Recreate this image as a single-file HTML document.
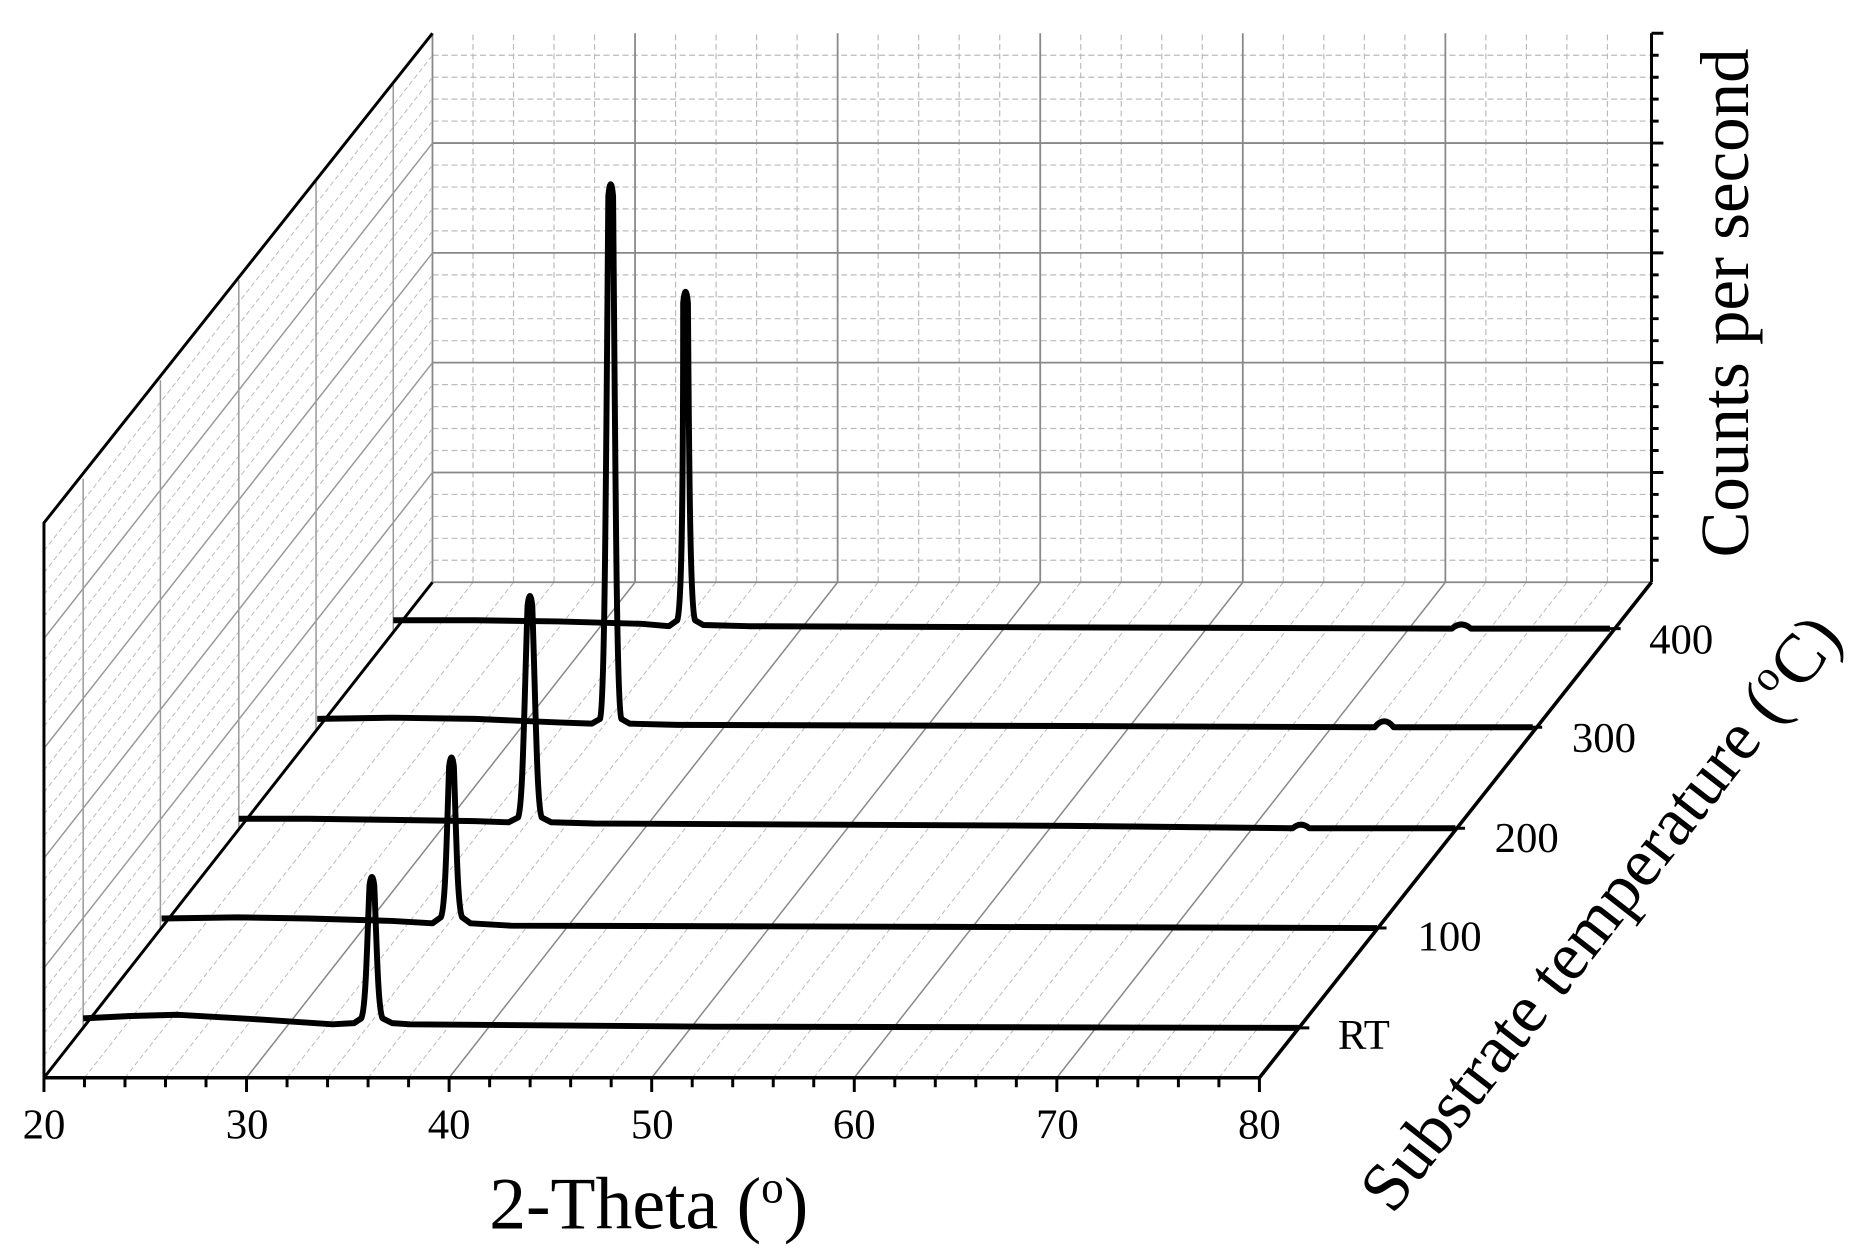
<!DOCTYPE html>
<html><head><meta charset="utf-8"><style>
html,body{margin:0;padding:0;background:#fff;}
svg{display:block;}
text{font-family:"Liberation Serif",serif;fill:#000;}
</style></head><body>
<svg width="1863" height="1256" viewBox="0 0 1568 1057" preserveAspectRatio="none" xmlns="http://www.w3.org/2000/svg">
<g transform="matrix(1,0,-0.7842,1,37,907)" fill="none">
<path vector-effect="non-scaling-stroke" stroke="#bbb" stroke-width="1" stroke-dasharray="5,3" d="M34.1 0V-417M68.2 0V-417M102.3 0V-417M136.4 0V-417M204.6 0V-417M238.7 0V-417M272.8 0V-417M306.9 0V-417M375.1 0V-417M409.2 0V-417M443.3 0V-417M477.4 0V-417M545.6 0V-417M579.7 0V-417M613.8 0V-417M647.9 0V-417M716.1 0V-417M750.2 0V-417M784.3 0V-417M818.4 0V-417M886.6 0V-417M920.7 0V-417M954.8 0V-417M988.9 0V-417"/>
<path vector-effect="non-scaling-stroke" stroke="#888" stroke-width="1.5" d="M170.5 0V-417M341 0V-417M511.5 0V-417M682 0V-417M852.5 0V-417"/>
</g>
<g transform="translate(364,490)" fill="none">
<path stroke="#bbb" stroke-width="1" stroke-dasharray="5,3" d="M34.1 0V-462M68.2 0V-462M102.3 0V-462M136.4 0V-462M204.6 0V-462M238.7 0V-462M272.8 0V-462M306.9 0V-462M375.1 0V-462M409.2 0V-462M443.3 0V-462M477.4 0V-462M545.6 0V-462M579.7 0V-462M613.8 0V-462M647.9 0V-462M716.1 0V-462M750.2 0V-462M784.3 0V-462M818.4 0V-462M886.6 0V-462M920.7 0V-462M954.8 0V-462M988.9 0V-462
M0 -18.5H1026M0 -37H1026M0 -55.4H1026M0 -73.9H1026M0 -110.9H1026M0 -129.4H1026M0 -147.8H1026M0 -166.3H1026M0 -203.3H1026M0 -221.8H1026M0 -240.2H1026M0 -258.7H1026M0 -295.7H1026M0 -314.2H1026M0 -332.6H1026M0 -351.1H1026M0 -388.1H1026M0 -406.6H1026M0 -425H1026M0 -443.5H1026"/>
<path stroke="#888" stroke-width="1.5" d="M170.5 0V-462M341 0V-462M511.5 0V-462M682 0V-462M852.5 0V-462M0 -92.4H1026M0 -184.8H1026M0 -277.2H1026M0 -369.6H1026M0 0V-462M0 0H1026"/>
</g>
<g transform="matrix(1,-1.2752,0,1,37,907)" fill="none">
<path vector-effect="non-scaling-stroke" stroke="#bbb" stroke-width="1" stroke-dasharray="5,3" d="M0 -18.5H327M0 -37H327M0 -55.4H327M0 -73.9H327M0 -110.9H327M0 -129.4H327M0 -147.8H327M0 -166.3H327M0 -203.3H327M0 -221.8H327M0 -240.2H327M0 -258.7H327M0 -295.7H327M0 -314.2H327M0 -332.6H327M0 -351.1H327M0 -388.1H327M0 -406.6H327M0 -425H327M0 -443.5H327"/>
<path vector-effect="non-scaling-stroke" stroke="#999" stroke-width="1.5" d="M0 -92.4H327M0 -184.8H327M0 -277.2H327M0 -369.6H327M33 0V-462M98 0V-462M164 0V-462M229 0V-462M294 0V-462"/>
</g>
<g stroke="#000" fill="none">
<path stroke-width="3" d="M37 907H1060L1390 490"/>
<path stroke-width="2.5" d="M37 907V440L364 28M1390 490V28M37 907L364 490"/>
<path stroke-width="2.5" d="M37 907v12M207.5 907v12M378 907v12M548.5 907v12M719 907v12M889.5 907v12M1060 907v12
M71.1 907v8M105.2 907v8M139.3 907v8M173.4 907v8M241.6 907v8M275.7 907v8M309.8 907v8M343.9 907v8M412.1 907v8M446.2 907v8M480.3 907v8M514.4 907v8M582.6 907v8M616.7 907v8M650.8 907v8M684.9 907v8M753.1 907v8M787.2 907v8M821.3 907v8M855.4 907v8M923.6 907v8M957.7 907v8M991.8 907v8M1025.9 907v8"/>
<path stroke-width="2.5" d="M1390 397.6h10M1390 305.2h10M1390 212.8h10M1390 120.4h10M1390 28h10
M1390 471.5h6M1390 453h6M1390 434.6h6M1390 416.1h6M1390 379.1h6M1390 360.6h6M1390 342.2h6M1390 323.7h6M1390 286.7h6M1390 268.2h6M1390 249.8h6M1390 231.3h6M1390 194.3h6M1390 175.8h6M1390 157.4h6M1390 138.9h6M1390 101.9h6M1390 83.4h6M1390 65h6M1390 46.5h6"/>
<path stroke-width="2.5" d="M1090 865h12M1155 781h12M1221 697h12M1286 612h12M1352 529h12"/>
</g>
<g fill="none" stroke="#000" stroke-width="5" stroke-linejoin="round">
<path d="M70 857L110 855L150 854L220 858L280 862L298 861L304 857C308 850 309 790 311 745Q313 731 315 745C317 790 318 850 322 857L330 861L345 862L600 864L1093 865"/>
<path d="M136 773L200 772L260 773L330 775L364 777L371 772C375 765 376 700 378 645Q380 630 382 645C384 700 385 765 389 772L396 777L430 779L800 780L1159 781"/>
<path d="M201 689L260 689L330 690L400 691L428 692L436 688C440 680 441 600 444 510Q446 493 448 510C451 600 452 680 456 688L464 692L500 693L900 695L1088 697Q1095 691 1102 697L1225 697"/>
<path d="M267 605L330 604L400 605L470 608L498 609L505 605C509 595 510 400 512 165Q514 145 516 165C518 400 519 595 523 605L530 609L570 610L900 611L1157 612Q1165 602 1173 612L1290 612"/>
<path d="M331 522L400 522L470 523L540 525L563 527L570 522C574 512 575 400 575 255Q577 236 579 255C580 400 581 512 585 522L592 526L630 527L900 528L1222 529Q1230 522 1238 529L1355 529"/>
</g>
<g font-size="36">
<text x="37" y="958" text-anchor="middle">20</text>
<text x="208" y="958" text-anchor="middle">30</text>
<text x="378" y="958" text-anchor="middle">40</text>
<text x="549" y="958" text-anchor="middle">50</text>
<text x="719" y="958" text-anchor="middle">60</text>
<text x="890" y="958" text-anchor="middle">70</text>
<text x="1060" y="958" text-anchor="middle">80</text>
<text x="1126" y="883">RT</text>
<text x="1193" y="800">100</text>
<text x="1258" y="717">200</text>
<text x="1323" y="633">300</text>
<text x="1388" y="550">400</text>
</g>
<text x="546" y="1034" font-size="62" text-anchor="middle">2-Theta (<tspan font-size="38" dy="-22">o</tspan><tspan dy="22">)</tspan></text>
<text font-size="58" text-anchor="middle" transform="translate(1471,255) rotate(-90)">Counts per second</text>
<text font-size="58" text-anchor="middle" transform="translate(1362,780) rotate(-52)">Substrate temperature (<tspan font-size="36" dy="-20">o</tspan><tspan dy="20">C)</tspan></text>
</svg>
</body></html>
